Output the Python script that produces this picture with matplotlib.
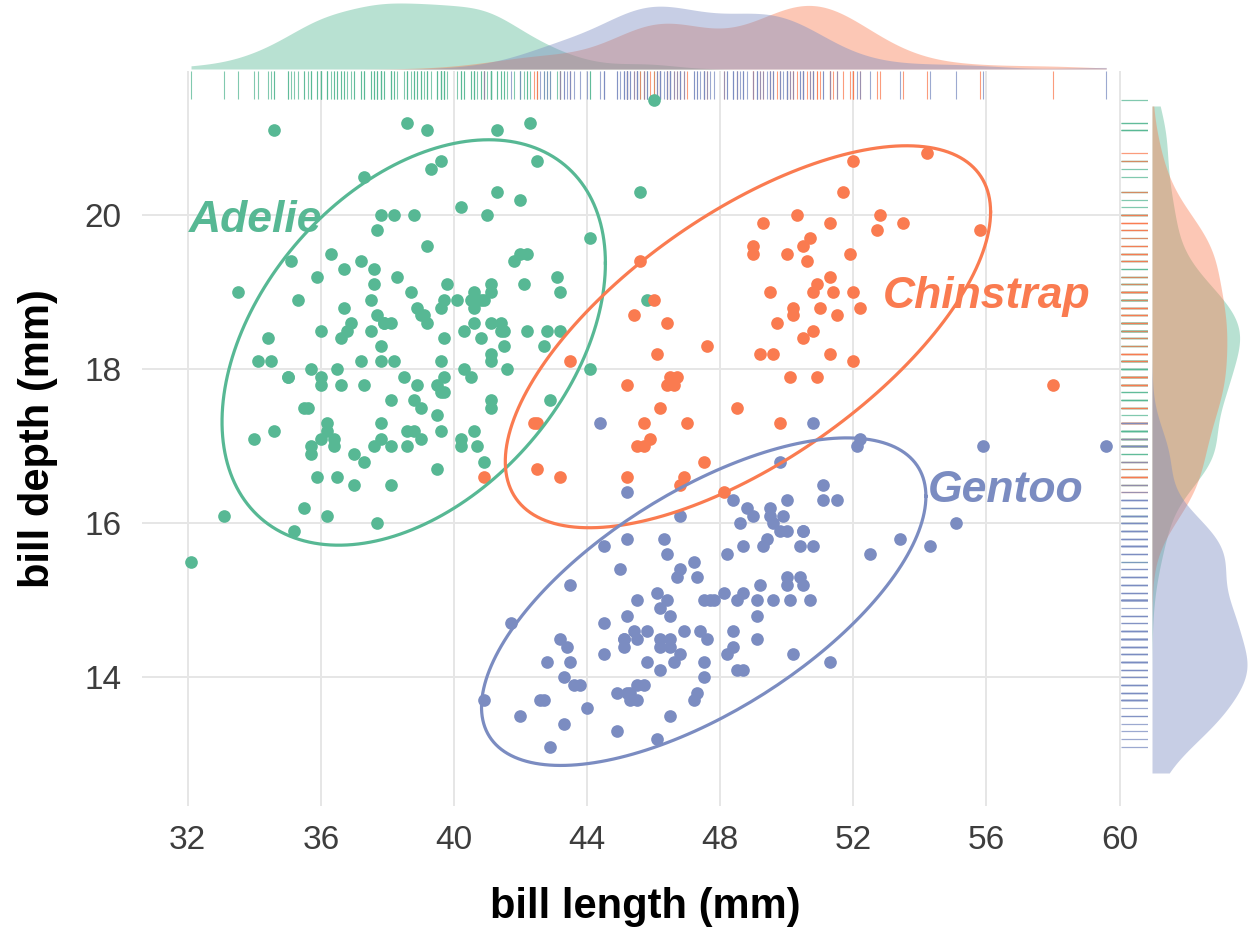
import numpy as np
import matplotlib.pyplot as plt

plt.rcParams['font.family'] = ['Liberation Sans', 'DejaVu Sans']

# bill length / bill depth (mm) per species
adelie_len = [39.1, 39.5, 40.3, 36.7, 39.3, 38.9, 39.2, 34.1, 42.0, 37.8, 37.8, 41.1, 38.6, 34.6, 36.6, 38.7, 42.5, 34.4, 46.0,
              37.8, 37.7, 35.9, 38.2, 38.8, 35.3, 40.6, 40.5, 37.9, 40.5,
              39.5, 37.2, 39.5, 40.9, 36.4, 39.2, 38.8, 42.2, 37.6, 39.8, 36.5, 40.8, 36.0, 44.1, 37.0, 39.6, 41.1, 37.5, 36.0, 42.3,
              39.6, 40.1, 35.0, 42.0, 34.5, 41.4, 39.0, 40.6, 36.5, 37.6, 35.7, 41.3, 37.6, 41.1, 36.4, 41.6, 35.5, 41.1,
              35.9, 41.8, 33.5, 39.7, 39.6, 45.8, 35.5, 42.8, 40.9, 37.2, 36.2, 42.1, 34.6, 42.9, 36.7, 35.1,
              37.3, 41.3, 36.3, 36.9, 38.3, 38.9, 35.7, 41.1, 34.0, 39.6, 36.2, 40.8, 38.1, 40.3, 33.1, 43.2,
              35.0, 41.0, 37.7, 37.8, 37.9, 39.7, 38.6, 38.2, 38.1, 43.2, 38.1, 45.6, 39.7, 42.2, 39.6, 42.7,
              38.6, 37.3, 35.7, 41.1, 36.2, 37.7, 40.2, 41.4, 35.2, 40.6, 38.8, 41.5, 39.0, 44.1, 38.5, 43.1,
              36.8, 37.5, 38.1, 41.1, 35.6, 40.2, 37.0, 39.7, 40.2, 40.6, 32.1, 40.7, 37.3, 39.0, 39.2, 36.6, 36.0, 37.8, 36.0, 41.5]
adelie_dep = [18.7, 17.4, 18.0, 19.3, 20.6, 17.8, 19.6, 18.1, 20.2, 17.1, 17.3, 17.6, 21.2, 21.1, 17.8, 19.0, 20.7, 18.4, 21.5,
              18.3, 18.7, 19.2, 18.1, 17.2, 18.9, 18.6, 17.9, 18.6, 18.9,
              16.7, 18.1, 17.8, 18.9, 17.0, 21.1, 20.0, 18.5, 19.3, 19.1, 18.0, 18.4, 18.5, 19.7, 16.9, 18.8, 19.0, 18.9, 17.9, 21.2,
              17.7, 18.9, 17.9, 19.5, 18.1, 18.6, 17.5, 18.8, 16.6, 19.1, 16.9, 21.1, 17.0, 18.2, 17.1, 18.0, 16.2, 19.1,
              16.6, 19.4, 19.0, 18.4, 17.2, 18.9, 17.5, 18.5, 16.8, 19.4, 16.1, 19.1, 17.2, 17.6, 18.8, 19.4,
              17.8, 20.3, 19.5, 18.6, 19.2, 18.8, 18.0, 18.1, 17.1, 18.1, 17.3, 18.9, 18.6, 18.5, 16.1, 18.5,
              17.9, 20.0, 16.0, 20.0, 18.6, 18.9, 17.2, 20.0, 17.0, 19.0, 16.5, 20.3, 17.7, 19.5, 20.7, 18.3,
              17.0, 20.5, 17.0, 18.6, 17.2, 19.8, 17.0, 18.5, 15.9, 19.0, 17.6, 18.3, 17.1, 18.0, 17.9, 19.2,
              18.5, 18.5, 17.6, 17.5, 17.5, 20.1, 16.5, 17.9, 17.1, 17.2, 15.5, 17.0, 16.8, 18.7, 18.6, 18.4, 17.8, 18.1, 17.1, 18.5]

chinstrap_len = [46.5, 50.0, 51.3, 45.4, 52.7, 45.2, 46.1, 51.3, 46.0, 51.3,
                 46.6, 51.7, 47.0, 52.0, 45.9, 50.5, 50.3, 58.0, 46.4, 49.2,
                 42.4, 48.5, 43.2, 50.6, 46.7, 52.0, 50.5, 49.5, 46.4, 52.8,
                 40.9, 54.2, 42.5, 51.0, 49.7, 47.5, 47.6, 52.0, 46.9, 53.5,
                 49.0, 46.2, 50.9, 45.5, 50.9, 50.8, 50.1, 49.0, 51.5, 49.8,
                 48.1, 51.4, 45.7, 50.7, 42.5, 52.2, 45.2, 49.3, 50.2, 45.6,
                 51.9, 46.8, 45.7, 55.8, 43.5, 49.6, 50.8, 50.2]
chinstrap_dep = [17.9, 19.5, 19.2, 18.7, 19.8, 17.8, 18.2, 18.2, 18.9, 19.9,
                 17.8, 20.3, 17.3, 18.1, 17.1, 19.6, 20.0, 17.8, 18.6, 18.2,
                 17.3, 17.5, 16.6, 19.4, 17.9, 19.0, 18.4, 19.0, 17.8, 20.0,
                 16.6, 20.8, 16.7, 18.8, 18.6, 16.8, 18.3, 20.7, 16.6, 19.9,
                 19.5, 17.5, 19.1, 17.0, 17.9, 18.5, 17.9, 19.6, 18.7, 17.3,
                 16.4, 19.0, 17.3, 19.7, 17.3, 18.8, 16.6, 19.9, 18.8, 19.4,
                 19.5, 16.5, 17.0, 19.8, 18.1, 18.2, 19.0, 18.7]

gentoo_len = [46.1, 50.0, 48.7, 50.0, 47.6, 46.5, 45.4, 46.7, 43.3, 46.8,
              40.9, 49.0, 45.5, 48.4, 45.8, 49.3, 42.0, 49.2, 46.2, 48.7,
              50.2, 45.1, 46.5, 46.3, 42.9, 46.1, 44.5, 47.8, 48.2, 50.0,
              47.3, 42.8, 45.1, 59.6, 49.1, 48.4, 42.6, 44.4, 44.0, 48.7,
              42.7, 49.6, 45.3, 49.6, 50.5, 43.6, 45.5, 50.5, 44.9, 45.2,
              46.6, 48.5, 45.1, 50.1, 46.5, 45.0, 43.8, 45.5, 43.2, 50.4,
              45.3, 46.2, 45.7, 54.3, 45.8, 49.8, 46.2, 49.5, 43.5, 50.7,
              47.7, 46.4, 48.2, 46.5, 46.4, 48.6, 47.5, 51.1, 45.2, 45.2,
              49.1, 52.5, 47.4, 50.0, 44.9, 50.8, 43.4, 51.3, 47.5, 52.1,
              47.5, 52.2, 45.5, 49.5, 44.5, 50.8, 49.4, 46.9, 48.4, 51.1,
              48.5, 55.9, 47.2, 49.1, 47.3, 46.8, 41.7, 53.4, 43.3, 48.1,
              50.5, 49.8, 43.5, 51.5, 46.2, 55.1, 44.5, 48.8, 47.2, 46.8,
              50.4, 45.2, 49.9]
gentoo_dep = [13.2, 16.3, 14.1, 15.2, 14.5, 13.5, 14.6, 15.3, 13.4, 15.4,
              13.7, 16.1, 13.7, 14.6, 14.6, 15.7, 13.5, 15.2, 14.5, 15.1,
              14.3, 14.5, 14.5, 15.8, 13.1, 15.1, 14.3, 15.0, 14.3, 15.3,
              15.3, 14.2, 14.5, 17.0, 14.8, 16.3, 13.7, 17.3, 13.6, 15.7,
              13.7, 16.0, 13.7, 15.0, 15.9, 13.9, 13.9, 15.9, 13.3, 15.8,
              14.2, 14.1, 14.4, 15.0, 14.4, 15.4, 13.9, 15.0, 14.5, 15.3,
              13.8, 14.9, 13.9, 15.7, 14.2, 16.8, 14.4, 16.2, 14.2, 15.0,
              15.0, 15.6, 15.6, 14.8, 15.0, 16.0, 14.2, 16.3, 13.8, 16.4,
              14.5, 15.6, 14.6, 15.9, 13.8, 17.3, 14.4, 14.2, 14.0, 17.0,
              15.0, 17.1, 14.5, 16.1, 14.7, 15.7, 15.8, 14.6, 14.4, 16.5,
              15.0, 17.0, 15.5, 15.0, 13.8, 16.1, 14.7, 15.8, 14.0, 15.1,
              15.2, 15.9, 15.2, 16.3, 14.1, 16.0, 15.7, 16.2, 13.7, 14.3,
              15.7, 14.8, 16.1]

species = ["Adelie", "Chinstrap", "Gentoo"]
lengths = [adelie_len, chinstrap_len, gentoo_len]
depths = [adelie_dep, chinstrap_dep, gentoo_dep]
colors = ["#57b894", "#fa7b50", "#7b8cc1"]
label_pos = [(32.05, 19.78), (52.88, 18.79), (54.23, 16.27)]


def bw_nrd0(v):
    v = np.asarray(v)
    q75, q25 = np.percentile(v, [75, 25])
    lo = min(v.std(ddof=1), (q75 - q25) / 1.34)
    return 0.9 * lo * len(v) ** -0.2


def kde(v, grid):
    v = np.asarray(v)
    bw = bw_nrd0(v)
    z = (grid[:, None] - v[None, :]) / bw
    return np.exp(-0.5 * z**2).sum(axis=1) / (len(v) * bw * np.sqrt(2 * np.pi))


def ellipse(x, y, level=0.9, n=200):
    x, y = np.asarray(x), np.asarray(y)
    dfd = len(x) - 1
    f = dfd / 2 * ((1 - level) ** (-2 / dfd) - 1)  # F(2, dfd) quantile
    r = np.sqrt(2 * f)
    L = np.linalg.cholesky(np.cov(x, y))
    t = np.linspace(0, 2 * np.pi, n)
    pts = r * L @ np.vstack([np.cos(t), np.sin(t)])
    return x.mean() + pts[0], y.mean() + pts[1]


W, H = 1248, 942
fig = plt.figure(figsize=(W / 100, H / 100), dpi=100)
ax = fig.add_axes([142 / W, 1 - 806 / H, 1006 / W, 735 / H])
ax_top = fig.add_axes([142 / W, 1 - 69 / H, 1006 / W, 69 / H], sharex=ax)
ax_right = fig.add_axes([1152 / W, 1 - 806 / H, 96 / W, 735 / H])

all_len = np.concatenate(lengths)
all_dep = np.concatenate(depths)
gx = np.linspace(all_len.min(), all_len.max(), 512)
gy = np.linspace(all_dep.min(), all_dep.max(), 512)

top_max, right_max = 0, 0
for name, xl, yd, c, (tx, ty) in zip(species, lengths, depths, colors, label_pos):
    ax.scatter(xl, yd, s=83, color=c, linewidths=0, zorder=3)
    ex, ey = ellipse(xl, yd)
    ax.plot(ex, ey, color=c, lw=2.3, zorder=4)
    ax.text(tx, ty, name, color=c, fontsize=32, fontweight='bold', style='italic',
            ha='left', va='baseline', zorder=5)
    # rugs on top and right edges of the panel
    ax.vlines(xl, 1 - 28 / 735, 1, transform=ax.get_xaxis_transform(),
              colors=c, lw=0.8, alpha=0.75, zorder=2)
    ax.hlines(yd, 1 - 27 / 1006, 1, transform=ax.get_yaxis_transform(),
              colors=c, lw=0.9, alpha=0.75, zorder=2)
    # marginal densities
    dx = kde(xl, gx)
    dy = kde(yd, gy)
    ax_top.fill_between(gx, dx, color=c, alpha=0.42, lw=0)
    ax_right.fill_betweenx(gy, dy, color=c, alpha=0.42, lw=0)
    top_max = max(top_max, dx.max())
    right_max = max(right_max, dy.max())

ax.set_xlim(30.627, 60.855)
ax.set_ylim(12.33, 21.87)
ax.set_xticks(range(32, 61, 4))
ax.set_yticks([14, 16, 18, 20])
ax.grid(color='#e6e6e6', lw=1.4)
ax.set_axisbelow(True)
ax.tick_params(length=0, labelsize=24, labelcolor='#3d3d3d')
ax.tick_params(axis='x', pad=14)
ax.tick_params(axis='y', pad=15)
for s in ax.spines.values():
    s.set_visible(False)

ax.set_xlabel("bill length (mm)", fontsize=30, fontweight='bold')
ax.set_ylabel("bill depth (mm)", fontsize=30, fontweight='bold')
ax.xaxis.set_label_coords(0.5, -0.11)
ax.yaxis.set_label_coords(-0.0835, 0.5)

ax_top.set_ylim(0, top_max * 69 / 66)
ax_top.axis('off')

# right marginal panel spans the depth range a bit taller than the main panel
step = (gy.max() - gy.min()) / (773 - 106)
ax_right.set_ylim(gy.min() - 33 * step, gy.max() + 35 * step)
ax_right.set_xlim(0, right_max * 96 / 95)
ax_right.axis('off')

fig.savefig("out.png", dpi=100)
